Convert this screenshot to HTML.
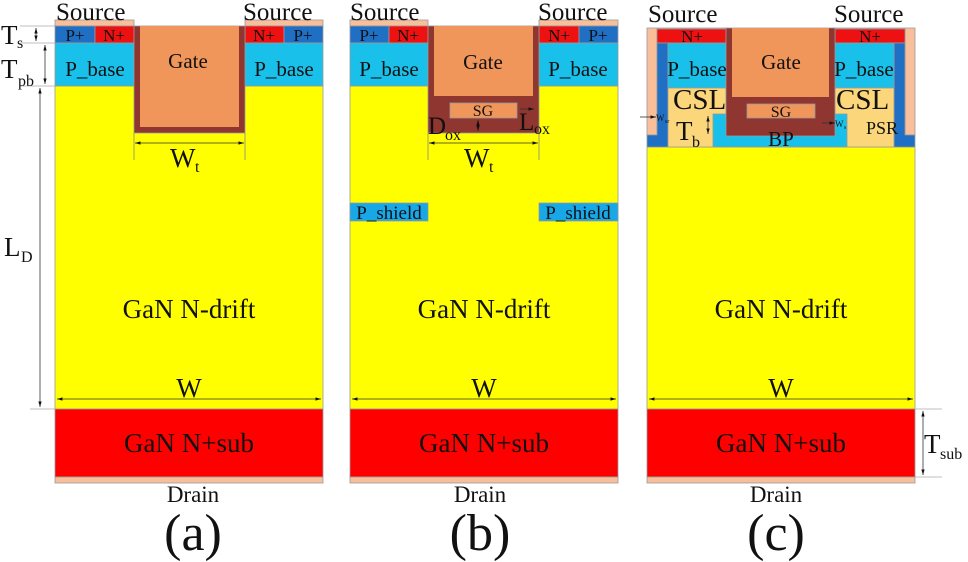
<!DOCTYPE html>
<html><head><meta charset="utf-8"><style>
html,body{margin:0;padding:0;background:#fff;width:968px;height:562px;overflow:hidden}
svg{display:block}
svg text{font-family:"Liberation Serif","DejaVu Serif",serif;fill:#111}
</style></head><body>
<svg width="968" height="562" viewBox="0 0 968 562" font-family="Liberation Serif, DejaVu Serif, serif">
<defs>
<marker id="ar" viewBox="0 0 10 10" refX="10" refY="5" markerWidth="7" markerHeight="7" orient="auto-start-reverse"><path d="M0,2 L10,5 L0,8 z" fill="#111"/></marker>
</defs>
<g stroke="#999" stroke-width="0.8">
<rect x="55" y="86" width="268" height="323" fill="#ffff00"/>
<rect x="55" y="409" width="268" height="68" fill="#ff0000"/>
<rect x="55" y="477" width="268" height="6" fill="#f9bf9a"/>
<rect x="55" y="20" width="79" height="6" fill="#f9bf9a"/>
<rect x="245" y="20" width="78" height="6" fill="#f9bf9a"/>
<rect x="55" y="26" width="40" height="17" fill="#1f6fc5"/>
<rect x="95" y="26" width="39" height="17" fill="#ee1111"/>
<rect x="245" y="26" width="39" height="17" fill="#ee1111"/>
<rect x="284" y="26" width="39" height="17" fill="#1f6fc5"/>
<rect x="55" y="43" width="79" height="43" fill="#18c0ea"/>
<rect x="245" y="43" width="78" height="43" fill="#18c0ea"/>
<rect x="134" y="26" width="111" height="107" fill="#8f3630"/>
<rect x="140" y="26" width="99" height="101" fill="#f0965a" stroke="none"/>
<rect x="350" y="86" width="268" height="323" fill="#ffff00"/>
<rect x="350" y="409" width="268" height="68" fill="#ff0000"/>
<rect x="350" y="477" width="268" height="6" fill="#f9bf9a"/>
<rect x="350" y="20" width="78" height="6" fill="#f9bf9a"/>
<rect x="539" y="20" width="79" height="6" fill="#f9bf9a"/>
<rect x="350" y="26" width="39" height="17" fill="#1f6fc5"/>
<rect x="389" y="26" width="39" height="17" fill="#ee1111"/>
<rect x="539" y="26" width="40" height="17" fill="#ee1111"/>
<rect x="579" y="26" width="39" height="17" fill="#1f6fc5"/>
<rect x="350" y="43" width="78" height="43" fill="#18c0ea"/>
<rect x="539" y="43" width="79" height="43" fill="#18c0ea"/>
<rect x="428" y="26" width="111" height="107" fill="#8f3630"/>
<rect x="434" y="26" width="99" height="70" fill="#f0965a" stroke="none"/>
<rect x="450" y="103" width="67" height="15" fill="#f0965a"/>
<rect x="350" y="203" width="78" height="18" fill="#18a8e8"/>
<rect x="539" y="203" width="79" height="18" fill="#18a8e8"/>
<rect x="647" y="147" width="268" height="262" fill="#ffff00"/>
<rect x="647" y="409" width="268" height="68" fill="#ff0000"/>
<rect x="647" y="477" width="268" height="6" fill="#f9bf9a"/>
<path d="M647,28 H726 V29 H657 V135 H647 Z" fill="#f9bf9a"/>
<path d="M835,28 H915 V135 H905 V29 H835 Z" fill="#f9bf9a"/>
<rect x="657" y="29" width="69" height="14" fill="#ee1111"/>
<rect x="835" y="29" width="70" height="14" fill="#ee1111"/>
<path d="M657,43 H668 V147 H647 V135 H657 Z" fill="#1f6fc5"/>
<path d="M894,43 H905 V135 H915 V147 H894 Z" fill="#1f6fc5"/>
<rect x="668" y="43" width="58" height="45" fill="#18c0ea"/>
<rect x="835" y="43" width="59" height="45" fill="#18c0ea"/>
<rect x="668" y="88" width="58" height="59" fill="#fbd67a"/>
<rect x="835" y="88" width="59" height="59" fill="#fbd67a"/>
<rect x="713" y="114" width="134" height="33" fill="#18c0ea"/>
<rect x="726" y="28" width="109" height="108" fill="#8f3630"/>
<rect x="732" y="28" width="97" height="69" fill="#f0965a" stroke="none"/>
<rect x="747" y="104" width="68" height="14" fill="#f0965a"/>
</g>
<g stroke="#333" stroke-width="0.8" fill="none">
<line x1="20" y1="26" x2="55" y2="26" stroke="#aaa"/><line x1="20" y1="43" x2="55" y2="43" stroke="#aaa"/>
<line x1="36" y1="28" x2="36" y2="41" marker-start="url(#ar)" marker-end="url(#ar)"/>
<line x1="20" y1="86" x2="55" y2="86" stroke="#aaa"/>
<line x1="45" y1="45" x2="45" y2="84" marker-start="url(#ar)" marker-end="url(#ar)"/>
<line x1="30" y1="409" x2="55" y2="409" stroke="#aaa"/>
<line x1="40" y1="88" x2="40" y2="407" marker-start="url(#ar)" marker-end="url(#ar)"/>
<line x1="135" y1="143" x2="244" y2="143" marker-start="url(#ar)" marker-end="url(#ar)"/>
<line x1="134" y1="133" x2="134" y2="160" stroke="#888"/><line x1="245" y1="133" x2="245" y2="160" stroke="#888"/>
<line x1="57" y1="399" x2="321" y2="399" marker-start="url(#ar)" marker-end="url(#ar)"/>
<line x1="429" y1="143" x2="538" y2="143" marker-start="url(#ar)" marker-end="url(#ar)"/>
<line x1="428" y1="133" x2="428" y2="160" stroke="#888"/><line x1="539" y1="133" x2="539" y2="160" stroke="#888"/>
<line x1="352" y1="399" x2="616" y2="399" marker-start="url(#ar)" marker-end="url(#ar)"/>
<line x1="478" y1="120" x2="478" y2="131" marker-start="url(#ar)" marker-end="url(#ar)"/>
<line x1="520" y1="109" x2="534" y2="109" marker-end="url(#ar)"/>
<line x1="649" y1="399" x2="913" y2="399" marker-start="url(#ar)" marker-end="url(#ar)"/>
<line x1="915" y1="409" x2="942" y2="409" stroke="#aaa"/><line x1="915" y1="477" x2="942" y2="477" stroke="#aaa"/>
<line x1="923" y1="411" x2="923" y2="475" marker-start="url(#ar)" marker-end="url(#ar)"/>
<line x1="708" y1="116" x2="708" y2="134" marker-start="url(#ar)" marker-end="url(#ar)"/>
<line x1="640" y1="117" x2="656" y2="117" marker-end="url(#ar)"/>
<line x1="822" y1="123" x2="835" y2="123" marker-end="url(#ar)"/>
</g>
<g font-size="25">
<text x="56" y="20">Source</text><text x="243" y="20">Source</text>
<text x="350" y="20">Source</text><text x="538" y="20">Source</text>
<text x="648" y="22">Source</text><text x="834" y="22">Source</text>
</g>
<g font-size="17" text-anchor="middle">
<text x="75" y="41">P+</text><text x="114" y="41">N+</text><text x="264" y="41">N+</text><text x="303" y="41">P+</text>
<text x="369" y="41">P+</text><text x="408" y="41">N+</text><text x="559" y="41">N+</text><text x="598" y="41">P+</text>
<text x="692" y="42">N+</text><text x="870" y="42">N+</text>
</g>
<g font-size="21" text-anchor="middle">
<text x="188" y="68">Gate</text><text x="483" y="69">Gate</text><text x="781" y="69">Gate</text>
<text x="95" y="76">P_base</text><text x="284" y="76">P_base</text>
<text x="389" y="76">P_base</text><text x="578" y="76">P_base</text>
<text x="697" y="76">P_base</text><text x="864" y="76">P_base</text>
<text x="389" y="219" font-size="19">P_shield</text><text x="578" y="219" font-size="19">P_shield</text>
<text x="483" y="116" font-size="16">SG</text><text x="781" y="117" font-size="16">SG</text>
<text x="781" y="146">BP</text>
</g>
<text x="673" y="109" font-size="29">CSL</text><text x="836" y="109" font-size="29">CSL</text>
<text x="866" y="134" font-size="18">PSR</text>
<text x="676" y="140" font-size="27">T</text><text x="692" y="147" font-size="16">b</text>
<text x="656" y="121" font-size="9">W</text><text x="665" y="123" font-size="6">sr</text>
<text x="835" y="127" font-size="9">W</text><text x="844" y="129" font-size="6">s</text>
<text x="428" y="134" font-size="25">D</text><text x="445" y="140" font-size="16">ox</text>
<text x="519" y="130" font-size="25">L</text><text x="534" y="134" font-size="16">ox</text>
<g font-size="27">
<text x="1" y="44">T</text><text x="17" y="48" font-size="16">s</text>
<text x="1" y="78">T</text><text x="18" y="86" font-size="16">pb</text>
<text x="4" y="256">L</text><text x="21" y="262" font-size="16">D</text>
<text x="170" y="167">W</text><text x="195" y="172" font-size="16">t</text>
<text x="464" y="167">W</text><text x="489" y="172" font-size="16">t</text>
<text x="924" y="453">T</text><text x="940" y="459" font-size="16">sub</text>
</g>
<g font-size="27" text-anchor="middle">
<text x="189" y="397">W</text><text x="484" y="397">W</text><text x="781" y="397">W</text>
<text x="189" y="318">GaN N-drift</text><text x="484" y="318">GaN N-drift</text><text x="781" y="318">GaN N-drift</text>
<text x="189" y="452">GaN N+sub</text><text x="484" y="452">GaN N+sub</text><text x="781" y="452">GaN N+sub</text>
</g>
<g font-size="23" text-anchor="middle">
<text x="193" y="502">Drain</text><text x="480" y="502">Drain</text><text x="776" y="502">Drain</text>
</g>
<g font-size="52" text-anchor="middle">
<text x="193" y="550">(a)</text><text x="480" y="550">(b)</text><text x="776" y="550">(c)</text>
</g>
</svg>
</body></html>
